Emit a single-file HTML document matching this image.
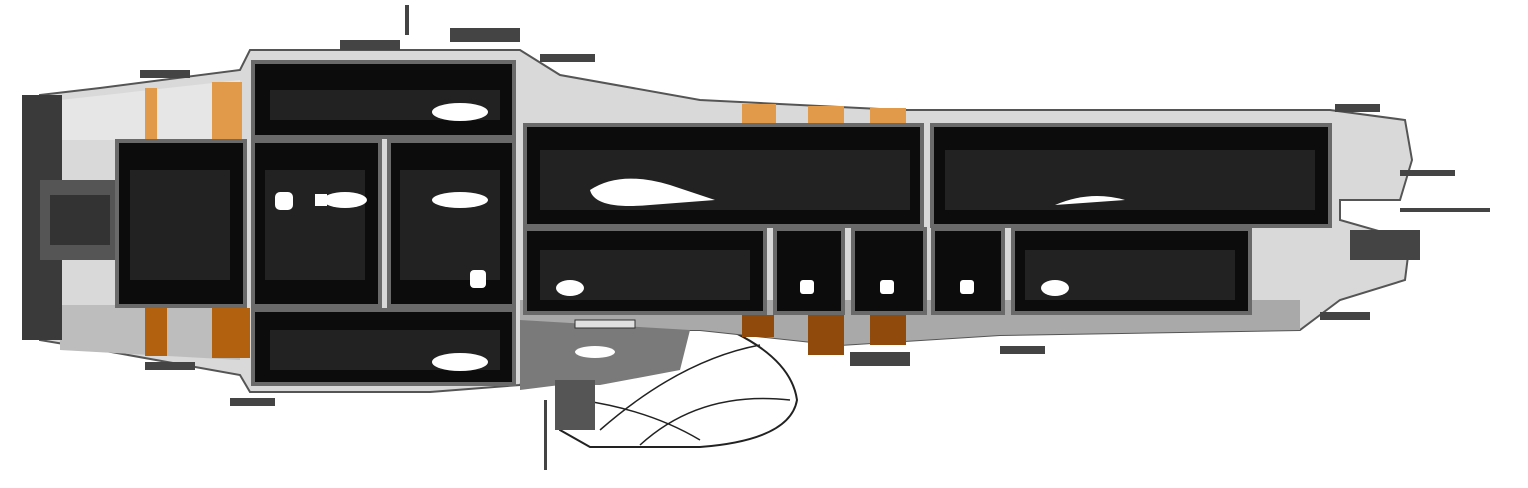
<!DOCTYPE html>
<html><head><style>html,body{margin:0;padding:0;background:#fff;width:1528px;height:488px;overflow:hidden}</style></head>
<body>
<svg width="1528" height="488" viewBox="0 0 1528 488" xmlns="http://www.w3.org/2000/svg">
<!-- lower hull bulge -->
<path d="M560 320 L700 318 Q790 350 797 400 Q790 440 700 447 L590 447 L560 430 Z" fill="#fff" stroke="#222" stroke-width="2"/>
<path d="M600 430 Q680 360 760 345 M640 445 Q700 390 790 400 M580 400 Q650 410 700 440" fill="none" stroke="#222" stroke-width="1.5"/>
<!-- main hull -->
<path d="M40 95 L100 88 L240 70 L250 50 L520 50 L560 75 L700 100 L900 110 L1330 110 L1405 120 L1412 160 L1400 200 L1340 200 L1340 220 L1410 240 L1405 280 L1340 300 L1300 330 L1000 335 L840 345 L700 330 L560 330 L520 385 L430 392 L250 392 L240 375 L100 350 L40 340 Z" fill="#d9d9d9" stroke="#555" stroke-width="2"/>
<path d="M60 100 L240 80 L240 140 L60 140 Z" fill="#e6e6e6"/>
<path d="M60 305 L240 305 L240 360 L60 350 Z" fill="#bdbdbd"/>
<path d="M520 300 L1300 300 L1300 330 L1000 335 L840 345 L700 330 L520 330 Z" fill="#a9a9a9"/>
<path d="M520 320 L690 330 L680 370 L600 385 L560 385 L520 390 Z" fill="#7a7a7a"/>
<rect x="555" y="380" width="40" height="50" fill="#555"/>
<!-- engine block left -->
<rect x="22" y="95" width="40" height="245" fill="#3a3a3a"/>
<rect x="40" y="180" width="80" height="80" fill="#555"/>
<rect x="50" y="195" width="60" height="50" fill="#333"/>
<!-- orange stripes -->
<rect x="145" y="88" width="12" height="52" fill="#e09a4a"/>
<rect x="212" y="82" width="30" height="58" fill="#e09a4a"/>
<rect x="145" y="308" width="22" height="48" fill="#b2620f"/>
<rect x="212" y="308" width="38" height="50" fill="#b2620f"/>
<rect x="742" y="104" width="34" height="20" fill="#e09a4a"/>
<rect x="808" y="106" width="36" height="18" fill="#e09a4a"/>
<rect x="870" y="108" width="36" height="16" fill="#e09a4a"/>
<rect x="742" y="315" width="32" height="22" fill="#8f4a0c"/>
<rect x="808" y="315" width="36" height="40" fill="#8f4a0c"/>
<rect x="870" y="315" width="36" height="30" fill="#8f4a0c"/>
<!-- rooms -->
<g fill="#0c0c0c" stroke="#6a6a6a" stroke-width="4">
<rect x="253" y="62" width="261" height="75"/>
<rect x="117" y="141" width="128" height="165"/>
<rect x="253" y="141" width="127" height="165"/>
<rect x="389" y="141" width="125" height="165"/>
<rect x="253" y="310" width="261" height="74"/>
<rect x="525" y="125" width="397" height="101"/>
<rect x="932" y="125" width="398" height="101"/>
<rect x="525" y="229" width="240" height="84"/>
<rect x="775" y="229" width="68" height="84"/>
<rect x="853" y="229" width="72" height="84"/>
<rect x="933" y="229" width="70" height="84"/>
<rect x="1013" y="229" width="237" height="84"/>
</g>
<!-- room details -->
<g fill="#222">
<rect x="270" y="90" width="230" height="30"/><rect x="130" y="170" width="100" height="110"/>
<rect x="265" y="170" width="100" height="110"/><rect x="400" y="170" width="100" height="110"/>
<rect x="270" y="330" width="230" height="40"/><rect x="540" y="150" width="370" height="60"/>
<rect x="945" y="150" width="370" height="60"/><rect x="540" y="250" width="210" height="50"/>
<rect x="1025" y="250" width="210" height="50"/>
</g>
<g fill="#fff">
<ellipse cx="460" cy="112" rx="28" ry="9"/><ellipse cx="460" cy="362" rx="28" ry="9"/>
<ellipse cx="345" cy="200" rx="22" ry="8"/><ellipse cx="460" cy="200" rx="28" ry="8"/>
<rect x="275" y="192" width="18" height="18" rx="5"/><rect x="315" y="194" width="12" height="12"/>
<rect x="470" y="270" width="16" height="18" rx="4"/>
<path d="M590 190 Q620 170 670 185 L715 200 L650 205 Q595 210 590 190Z"/>
<path d="M1055 205 Q1090 190 1125 200 L1055 205Z"/>
<ellipse cx="570" cy="288" rx="14" ry="8"/><ellipse cx="1055" cy="288" rx="14" ry="8"/>
<rect x="800" y="280" width="14" height="14" rx="3"/><rect x="880" y="280" width="14" height="14" rx="3"/><rect x="960" y="280" width="14" height="14" rx="3"/>
</g>
<!-- turrets -->
<g fill="#444">
<rect x="140" y="70" width="50" height="8"/><rect x="145" y="362" width="50" height="8"/>
<rect x="230" y="398" width="45" height="8"/><rect x="340" y="40" width="60" height="10"/>
<rect x="450" y="28" width="70" height="14"/><rect x="540" y="54" width="55" height="8"/>
<rect x="1335" y="104" width="45" height="8"/><rect x="1320" y="312" width="50" height="8"/>
<rect x="850" y="352" width="60" height="14"/><rect x="1000" y="346" width="45" height="8"/>
<rect x="1400" y="170" width="55" height="6"/><rect x="1400" y="208" width="90" height="4"/>
<rect x="1350" y="230" width="70" height="30"/>
<rect x="405" y="5" width="4" height="30"/><rect x="544" y="400" width="3" height="70"/>
</g>
<rect x="575" y="320" width="60" height="8" fill="#e0e0e0" stroke="#333"/>
<ellipse cx="595" cy="352" rx="20" ry="6" fill="#fff"/>
</svg>
</body></html>
